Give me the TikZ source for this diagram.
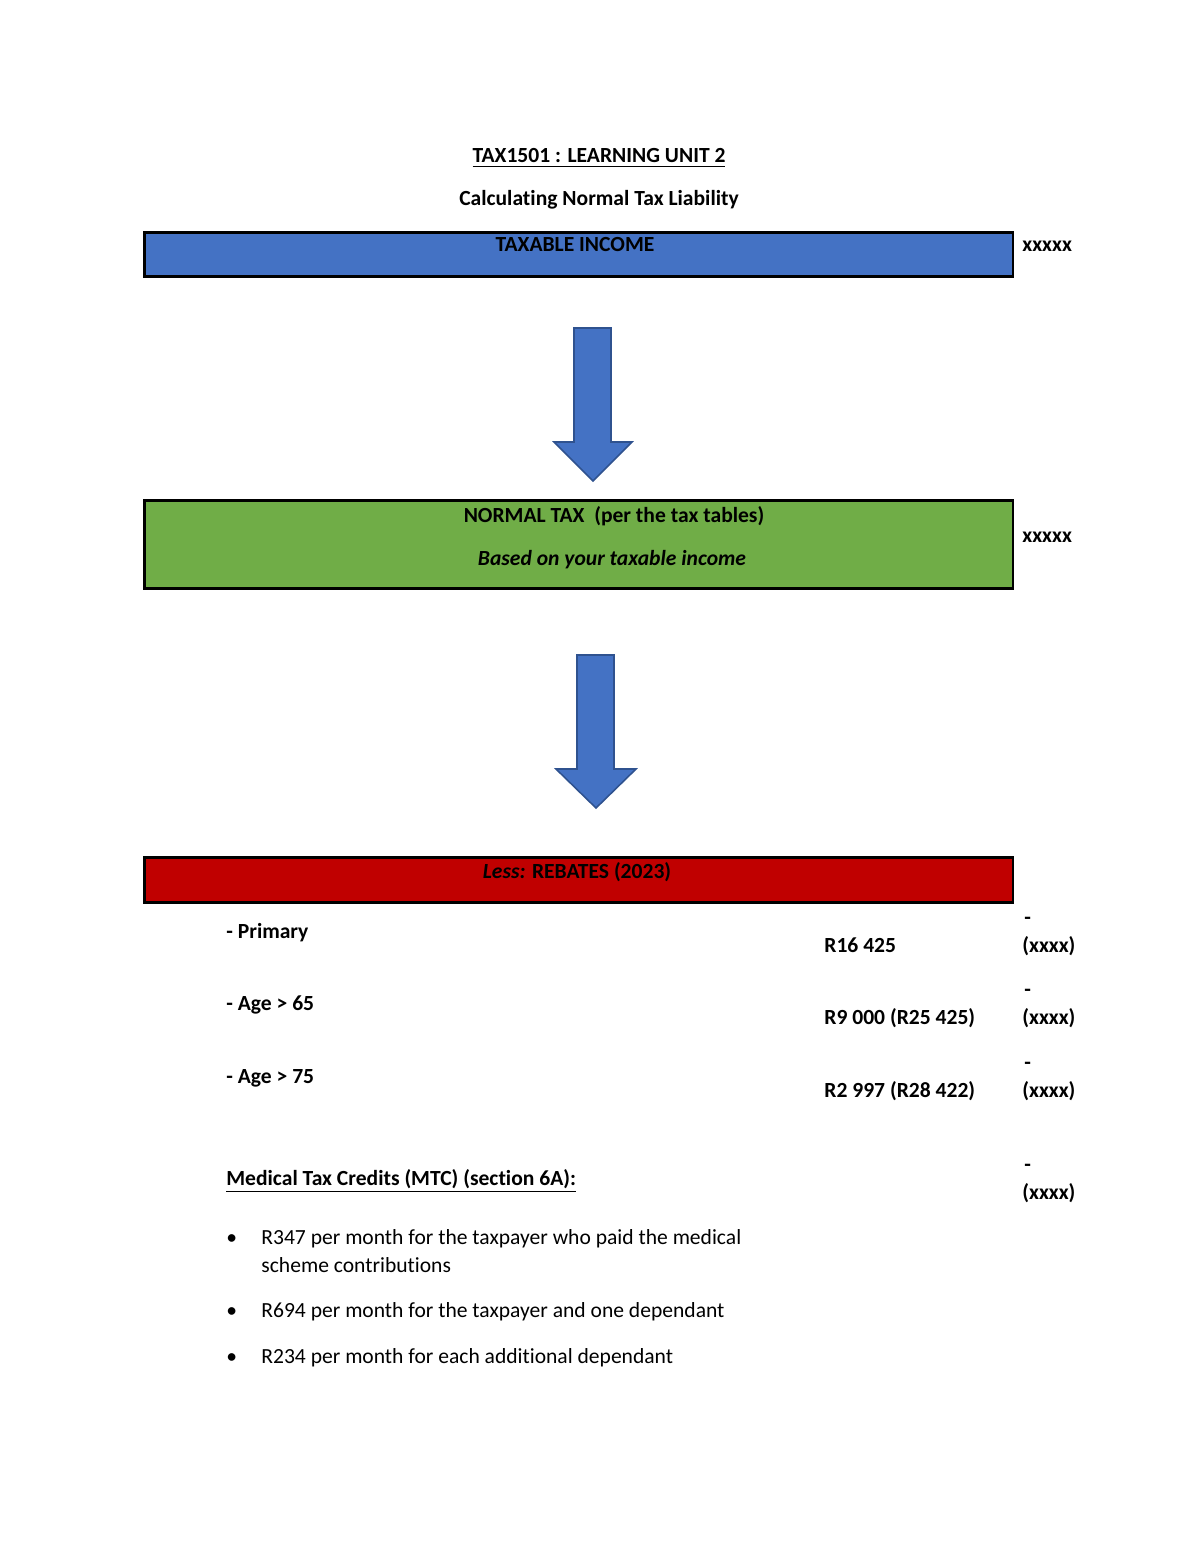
\documentclass[tikz,border=0pt]{standalone}
\usepackage{fontspec}
\setmainfont{Carlito}[Ligatures=NoCommon]
\usepackage{tikz}

\definecolor{incomeblue}{HTML}{4472C4}
\definecolor{arrowedge}{HTML}{2F528F}
\definecolor{taxgreen}{HTML}{70AD47}
\definecolor{rebatered}{HTML}{C00000}

\begin{document}
\begin{tikzpicture}[x=0.51pt, y=-0.51pt,
    box/.style={draw=black, line width=1.3pt, minimum width=443pt, inner sep=0pt, anchor=north west},
    txt/.style={font=\fontsize{11}{13}\selectfont\bfseries, inner sep=0pt, anchor=base},
    lefttxt/.style={font=\fontsize{11}{13}\selectfont\bfseries, inner sep=0pt, anchor=base west},
    plaintxt/.style={font=\fontsize{11}{13}\selectfont, inner sep=0pt, anchor=base west},
    bigarrow/.style={fill=incomeblue, draw=arrowedge, line width=0.8pt, line join=miter}]
        \useasboundingbox (0,0) rectangle (1200,1553);

        % heading
        \node[txt] (title) at (599,163) {\underline{TAX1501 : LEARNING UNIT 2}};
        \node[txt] (subtitle) at (599,206) {Calculating Normal Tax Liability};

        % taxable income
        \node[box, fill=incomeblue, minimum height=22.5pt] (income) at (143,231) {};
        \node[txt] (incometxt) at (575,252) {TAXABLE INCOME};
        \node[lefttxt] (incomeamt) at (1022,251) {xxxxx};

        \coordinate (arrA) at (574,328);
        \draw[bigarrow] (arrA) -- ++(37,0) -- ++(0,114) -- ++(21,0) -- ++(-39,39)
            -- ++(-39,-39) -- ++(20,0) -- cycle;

        % normal tax
        \node[box, fill=taxgreen, minimum height=44.9pt] (normal) at (143,499) {};
        \node[txt] (normaltxt) at (614,522) {NORMAL TAX\ \ (per the tax tables)};
        \node[txt] (basedtxt) at (612,565) {\itshape Based on your taxable income};
        \node[lefttxt] (normalamt) at (1022,542) {xxxxx};

        \coordinate (arrB) at (577,655);
        \draw[bigarrow] (arrB) -- ++(37,0) -- ++(0,114) -- ++(22,0) -- ++(-40,39)
            -- ++(-40,-39) -- ++(21,0) -- cycle;

        % rebates
        \node[box, fill=rebatered, minimum height=23pt] (rebates) at (143,856) {};
        \node[txt] (rebatestxt) at (577,878) {\textit{Less:} REBATES (2023)};

        \node[lefttxt] (primary) at (226,938) {- Primary};
        \node[lefttxt] (primaryamt) at (824,952) {R16 425};
        \node[lefttxt] (primarydash) at (1024,924) {-};
        \node[lefttxt] (primaryx) at (1022,952) {(xxxx)};

        \node[lefttxt] (age65) at (226,1010) {- Age > 65};
        \node[lefttxt] (age65amt) at (824,1024) {R9 000 (R25 425)};
        \node[lefttxt] (age65dash) at (1024,996) {-};
        \node[lefttxt] (age65x) at (1022,1024) {(xxxx)};

        \node[lefttxt] (age75) at (226,1083) {- Age > 75};
        \node[lefttxt] (age75amt) at (824,1097) {R2 997 (R28 422)};
        \node[lefttxt] (age75dash) at (1024,1069) {-};
        \node[lefttxt] (age75x) at (1022,1097) {(xxxx)};

        % medical tax credits
        \node[lefttxt] (mtc) at (226,1185) {\underline{Medical Tax Credits (MTC) (section 6A):}};
        \node[lefttxt] (mtcdash) at (1024,1171) {-};
        \node[lefttxt] (mtcx) at (1022,1199) {(xxxx)};

        \node[plaintxt] (bulA) at (226,1244) {\textbullet};
        \node[plaintxt] (mtcA) at (261,1244) {R347 per month for the taxpayer who paid the medical};
        \node[plaintxt] (mtcAA) at (261,1272) {scheme contributions};
        \node[plaintxt] (bulB) at (226,1317) {\textbullet};
        \node[plaintxt] (mtcB) at (261,1317) {R694 per month for the taxpayer and one dependant};
        \node[plaintxt] (bulC) at (226,1363) {\textbullet};
        \node[plaintxt] (mtcC) at (261,1363) {R234 per month for each additional dependant};
    \end{tikzpicture}
\end{document}
